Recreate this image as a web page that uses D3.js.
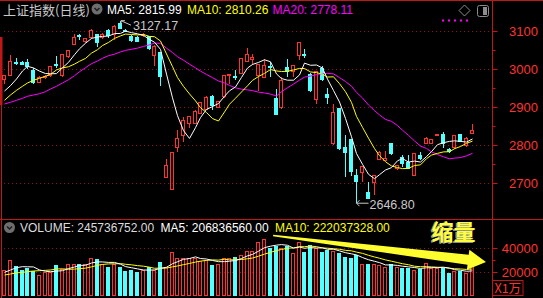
<!DOCTYPE html>
<meta charset="utf-8">
<style>
body { margin: 0; background: #000; }
svg { display: block; }
text { font-family: "Liberation Sans", Arial, sans-serif; }
.cjk { font-family: "Noto Sans CJK SC", sans-serif; }
</style>
<body>
<script src="https://d3js.org/d3.v7.min.js"></script>
<script>

// daily candles (index points)
var open = [2970.3, 2982.4, 3019.2, 3019.2, 3017.6, 2997.4, 2963.2, 2975.5, 2980.8, 3013.2,
  2982.4, 3031.6, 3063.2, 3089.5, 3070.3, 3080.8, 3091.3, 3080.8, 3103.4, 3089.5,
  3121.1, 3103.4, 3087.6, 3084.2, 3086.1, 3086.1, 3033.4, 3043.9, 2713.9, 2681.6,
  2791.3, 2824.5, 2856.1, 2856.1, 2882.4, 2892.9, 2928.2, 2898.2, 2926.3, 2980.8,
  2980.8, 2986.8, 3019.2, 3024.5, 2980.8, 2977.1, 3008.7, 2924.5, 2896.6, 3005.3,
  2991.3, 3033.4, 3040.3, 2987.6, 2917.6, 3001.8, 2935.0, 2801.8, 2896.6, 2794.7,
  2815.8, 2721.1, 2725.5, 2675.5, 2699.2, 2760.5, 2758.7, 2804.5, 2736.0, 2768.4,
  2755.3, 2719.7, 2773.7, 2803.4, 2803.4, 2824.5, 2828.2, 2789.5, 2791.3, 2828.2,
  2796.6, 2829.7];
var high = [2984.2, 3036.8, 3029.7, 3020.5, 3026.3, 3002.6, 2980.8, 2984.0, 3008.0, 3034.2,
  3040.3, 3051.0, 3092.9, 3092.9, 3082.0, 3104.0, 3092.0, 3094.0, 3104.0, 3115.0,
  3127.17, 3105.0, 3089.0, 3086.0, 3095.0, 3088.0, 3062.0, 3045.0, 2763.2, 2782.4,
  2838.7, 2873.7, 2877.0, 2891.0, 2914.0, 2928.0, 2931.6, 2917.0, 2985.0, 2987.0,
  2998.2, 3029.0, 3054.5, 3040.3, 3013.0, 3026.3, 3019.2, 2947.4, 2978.9, 3026.3,
  3011.0, 3071.0, 3052.6, 2989.0, 2996.0, 3008.7, 2950.8, 2907.1, 2898.0, 2826.3,
  2817.0, 2736.0, 2746.0, 2701.8, 2722.0, 2783.0, 2783.4, 2805.3, 2748.0, 2773.7,
  2773.7, 2779.0, 2780.8, 2820.0, 2817.0, 2829.0, 2833.4, 2792.9, 2827.0, 2829.0,
  2820.0, 2854.5];
var low = [2959.7, 2982.4, 3010.5, 3009.5, 3000.0, 2961.3, 2962.0, 2974.0, 2980.0, 3001.8,
  2978.9, 3030.0, 3063.2, 3076.3, 3069.0, 3080.0, 3057.9, 3080.0, 3080.8, 3076.3,
  3104.0, 3097.0, 3072.0, 3070.0, 3085.0, 3051.0, 3007.1, 2956.1, 2713.0, 2681.0,
  2780.8, 2808.7, 2843.9, 2855.0, 2881.0, 2892.0, 2892.9, 2897.0, 2925.0, 2959.7,
  2971.8, 2986.0, 3019.0, 3010.5, 2942.1, 2977.0, 2978.9, 2878.0, 2896.0, 2978.9,
  2978.9, 3022.9, 3029.7, 2938.7, 2907.1, 2969.0, 2907.1, 2801.0, 2786.1, 2715.8,
  2717.6, 2646.80, 2703.4, 2657.0, 2668.4, 2760.0, 2758.0, 2775.0, 2735.0, 2742.9,
  2736.0, 2719.0, 2759.7, 2803.0, 2803.0, 2824.0, 2792.9, 2778.9, 2790.0, 2808.0,
  2796.0, 2829.0];
var close = [2984.2, 3021.1, 3013.9, 3010.5, 3005.3, 2963.2, 2978.9, 2982.4, 3007.1, 3007.9,
  3039.5, 3050.0, 3084.2, 3084.2, 3080.8, 3103.4, 3068.4, 3092.9, 3087.6, 3113.9,
  3105.3, 3098.2, 3073.7, 3071.8, 3092.9, 3052.6, 3061.3, 2978.9, 2747.4, 2780.8,
  2817.6, 2865.0, 2875.5, 2889.5, 2912.4, 2926.3, 2901.8, 2915.8, 2984.2, 2986.0,
  2975.5, 3028.2, 3038.7, 3031.6, 3012.4, 3010.5, 3001.8, 2878.9, 2970.3, 2991.3,
  3010.5, 3070.3, 3035.0, 2942.1, 2994.7, 2970.3, 2924.5, 2886.1, 2789.5, 2778.9,
  2729.7, 2703.4, 2744.7, 2657.9, 2721.1, 2782.4, 2765.0, 2776.3, 2747.4, 2750.0,
  2736.8, 2778.2, 2763.2, 2819.2, 2815.8, 2828.2, 2803.4, 2780.8, 2826.3, 2808.7,
  2819.2, 2838.7];

var ma5 = [2942.1, 2956.1, 2973.7, 2994.7, 3007.0, 3002.8, 2994.4, 2988.1, 2987.4, 2987.9,
  3003.2, 3017.4, 3037.7, 3053.2, 3067.7, 3080.5, 3084.2, 3085.9, 3086.6, 3093.2,
  3093.6, 3099.6, 3095.7, 3092.6, 3088.4, 3077.8, 3070.5, 3051.5, 2986.6, 2924.2,
  2877.2, 2837.9, 2817.3, 2845.7, 2872.0, 2893.7, 2901.1, 2909.2, 2928.1, 2942.8,
  2952.7, 2977.9, 3002.5, 3012.0, 3017.3, 3024.3, 3019.0, 2987.0, 2974.8, 2970.6,
  2970.6, 2984.3, 3015.5, 3009.8, 3010.5, 3002.5, 2973.3, 2943.5, 2913.0, 2869.9,
  2821.7, 2777.5, 2749.2, 2722.9, 2711.4, 2721.9, 2734.2, 2740.5, 2758.4, 2764.2,
  2755.1, 2757.7, 2755.1, 2769.5, 2782.6, 2800.9, 2806.0, 2809.5, 2810.9, 2809.5,
  2807.7, 2815.99];
var ma10 = [2917.6, 2931.6, 2943.9, 2954.5, 2963.2, 2970.3, 2975.5, 2980.8, 2986.0, 2997.5,
  3003.0, 3005.9, 3012.9, 3020.3, 3027.8, 3041.8, 3050.8, 3061.8, 3069.9, 3080.5,
  3087.1, 3091.9, 3090.8, 3089.6, 3090.8, 3085.7, 3085.0, 3073.6, 3039.6, 3006.3,
  2977.5, 2954.2, 2934.4, 2916.2, 2898.1, 2885.5, 2869.5, 2863.2, 2886.9, 2907.4,
  2923.2, 2939.5, 2955.8, 2970.1, 2980.1, 2988.5, 2998.5, 2994.8, 2993.4, 2993.9,
  2997.4, 3001.6, 3001.3, 2992.3, 2990.5, 2986.5, 2978.8, 2979.5, 2961.4, 2940.2,
  2912.1, 2875.4, 2846.4, 2818.0, 2790.6, 2771.8, 2755.9, 2744.9, 2740.7, 2737.8,
  2738.5, 2746.0, 2747.8, 2764.0, 2773.4, 2778.0, 2781.9, 2782.3, 2790.2, 2796.1,
  2804.3, 2810.26];
var ma20 = [2907.9, 2912.4, 2917.6, 2922.9, 2928.2, 2931.6, 2935.0, 2940.3, 2947.4, 2954.5,
  2963.2, 2971.8, 2982.4, 2992.9, 3003.4, 3013.9, 3021.1, 3028.2, 3035.0, 3039.0,
  3045.0, 3048.9, 3051.9, 3054.9, 3059.3, 3063.8, 3067.9, 3067.7, 3054.7, 3043.4,
  3032.3, 3023.0, 3012.6, 3002.9, 2994.5, 2985.6, 2977.3, 2968.4, 2963.2, 2956.9,
  2950.4, 2946.9, 2945.1, 2943.1, 2939.1, 2937.0, 2934.0, 2929.0, 2940.1, 2950.7,
  2960.3, 2970.6, 2978.6, 2981.2, 2985.3, 2987.5, 2988.6, 2987.1, 2977.4, 2967.1,
  2954.8, 2938.5, 2923.8, 2905.1, 2890.6, 2879.2, 2867.3, 2862.2, 2851.1, 2839.0,
  2825.3, 2810.7, 2797.1, 2791.0, 2782.0, 2774.9, 2768.9, 2763.6, 2765.4, 2766.9,
  2771.4, 2778.11];

// volume in units of 10,000 (x1万)
var volume = [21417, 29750, 25028, 21417, 22806, 20861, 17250, 19472, 19472, 25583,
  22250, 26139, 26139, 26139, 26139, 31694, 30583, 26139, 24194, 26139,
  24194, 20583, 21417, 19472, 21417, 23639, 21417, 27806, 24194, 36139,
  31694, 31694, 31139, 31139, 29194, 29750, 25583, 26139, 31139, 31139,
  32528, 33917, 37250, 37250, 44472, 47250, 40028, 41667, 39500, 41667,
  35306, 44472, 36694, 42250, 40028, 36139, 38083, 37250, 35306, 32528,
  31139, 33917, 26139, 26139, 26139, 25583, 24194, 26139, 24194, 22806,
  22806, 21417, 22250, 26900, 23500, 23000, 23000, 18639, 20400, 21000,
  18800, 24573.68];
var volMa5 = [19500, 21417, 23333, 24194, 24084, 23972, 21472, 20361, 19972, 20528,
  20805, 22583, 23917, 25250, 25361, 27250, 28139, 28139, 27750, 27750,
  26250, 24250, 23305, 22361, 21417, 21306, 21472, 22750, 23695, 26639,
  28250, 30305, 30972, 32361, 30972, 30583, 29361, 28361, 28361, 28750,
  29306, 30972, 33195, 34417, 37083, 40028, 41250, 42133, 42583, 42022,
  39634, 40522, 39528, 40078, 39750, 39917, 38639, 38750, 37361, 35861,
  34861, 34028, 31806, 29972, 28695, 27583, 25639, 25639, 25250, 24583,
  24028, 23472, 22695, 23236, 23375, 23413, 23730, 23008, 21708, 21208,
  20368, 20683.66];
var volMa10 = [17250, 18083, 19000, 19472, 20028, 20583, 20861, 21139, 21417, 22306,
  22389, 22028, 22139, 22611, 22944, 24028, 25361, 26028, 26500, 26556,
  26750, 26194, 25722, 25055, 24583, 23778, 22861, 23028, 23028, 24028,
  24778, 25889, 26861, 28028, 28806, 29417, 29833, 29667, 30361, 29861,
  29944, 30167, 30778, 31389, 32917, 34667, 36111, 37664, 38500, 39553,
  39831, 40886, 40831, 41331, 40886, 39775, 39581, 39139, 38720, 37806,
  37389, 36333, 35278, 33667, 32278, 31222, 29833, 28722, 27611, 26639,
  25806, 24556, 24167, 24243, 23979, 23721, 23601, 22851, 22472, 22291,
  21891, 22203.73];

var priceTicks = [3100, 3000, 2900, 2800, 2700];
var priceMinor = [3050, 2950, 2850, 2750];
var volTicks = [40000, 20000];
var volMinor = [30000];

var RED = "#ff3232", CYAN = "#54ffff", AXIS = "#c01818", GRID = "#8c1414";
var W = 543, H = 298, axisX = 492.5;

var svg = d3.select("body").append("svg")
    .attr("width", W).attr("height", H)
    .style("background", "#000");

var n = close.length;
var x = d3.scaleBand().domain(d3.range(85)).range([1.4, 491.9]);
function cx(i) { return Math.round(x(i) + x.bandwidth() / 2); }

var y = d3.scaleLinear().domain([2700, 3100]).range([183, 31]);
var yv = d3.scaleLinear().domain([0, 40000]).range([295.7, 247.7]);

// frame
svg.append("line").attr("x1", 0).attr("x2", W).attr("y1", 0.5).attr("y2", 0.5).attr("stroke", AXIS);
svg.append("line").attr("x1", 0).attr("x2", W).attr("y1", 219.5).attr("y2", 219.5).attr("stroke", AXIS);
svg.append("line").attr("x1", axisX).attr("x2", axisX).attr("y1", 0).attr("y2", H).attr("stroke", AXIS);
svg.append("line").attr("x1", 1.5).attr("x2", 1.5).attr("y1", 37).attr("y2", H).attr("stroke", AXIS);
svg.append("rect").attr("x", 0).attr("y", 37).attr("width", 2.5).attr("height", 68).attr("fill", AXIS);

// dotted grid
svg.selectAll(".pgrid").data(priceTicks).join("line")
    .attr("x1", 4).attr("x2", axisX - 1)
    .attr("y1", d => Math.round(y(d)) + 0.5).attr("y2", d => Math.round(y(d)) + 0.5)
    .attr("stroke", GRID).attr("stroke-dasharray", "1,3");
svg.selectAll(".vgrid").data(volTicks).join("line")
    .attr("x1", 4).attr("x2", axisX - 1)
    .attr("y1", d => Math.round(yv(d)) + 0.5).attr("y2", d => Math.round(yv(d)) + 0.5)
    .attr("stroke", GRID).attr("stroke-dasharray", "1,3");

// right axes
function ticks(sc, major, minor) {
  svg.append("g").selectAll("line").data(major).join("line")
      .attr("x1", axisX).attr("x2", axisX + 5)
      .attr("y1", d => Math.round(sc(d)) + 0.5).attr("y2", d => Math.round(sc(d)) + 0.5)
      .attr("stroke", AXIS);
  svg.append("g").selectAll("line").data(minor).join("line")
      .attr("x1", axisX).attr("x2", axisX + 3)
      .attr("y1", d => Math.round(sc(d)) + 0.5).attr("y2", d => Math.round(sc(d)) + 0.5)
      .attr("stroke", AXIS);
  svg.append("g").selectAll("text").data(major).join("text")
      .attr("x", 538).attr("y", d => sc(d) + 4.8)
      .attr("text-anchor", "end").attr("fill", RED).attr("font-size", "13px")
      .text(d => d);
}
ticks(y, priceTicks, priceMinor);
ticks(yv, volTicks, volMinor);

// candles: red hollow = up, cyan filled = down
var candles = svg.append("g");
d3.range(n).forEach(function(i) {
  var c = cx(i), up = close[i] >= open[i];
  var top = Math.round(y(Math.max(open[i], close[i])));
  var bot = Math.round(y(Math.min(open[i], close[i])));
  var hy = Math.round(y(high[i])), ly = Math.round(y(low[i]));
  if (bot - top < 1) bot = top + 1;
  if (up) {
    candles.append("line").attr("x1", c + 0.5).attr("x2", c + 0.5)
        .attr("y1", hy).attr("y2", top).attr("stroke", RED);
    candles.append("line").attr("x1", c + 0.5).attr("x2", c + 0.5)
        .attr("y1", bot).attr("y2", ly).attr("stroke", RED);
    candles.append("rect").attr("x", c - 1.5).attr("y", top + 0.5)
        .attr("width", 3).attr("height", Math.max(1, bot - top - 1))
        .attr("fill", "none").attr("stroke", RED);
  } else {
    candles.append("line").attr("x1", c + 0.5).attr("x2", c + 0.5)
        .attr("y1", hy).attr("y2", ly).attr("stroke", CYAN);
    candles.append("rect").attr("x", c - 2).attr("y", top)
        .attr("width", 4).attr("height", bot - top).attr("fill", CYAN);
  }
});

// moving averages
function maLine(vals, sc, color) {
  svg.append("path").datum(vals)
      .attr("fill", "none").attr("stroke", color).attr("stroke-width", 1)
      .attr("d", d3.line().x((d, i) => cx(i) + 0.5).y(d => sc(d)));
}
maLine(ma20, y, "#ff00ff");
maLine(ma10, y, "#ffff00");
maLine(ma5, y, "#ffffff");

// volume bars
var vbars = svg.append("g");
d3.range(n).forEach(function(i) {
  var c = cx(i), up = close[i] >= open[i];
  var top = Math.round(yv(volume[i])), base = 296;
  if (up) {
    vbars.append("rect").attr("x", c - 1.5).attr("y", top + 0.5)
        .attr("width", 3).attr("height", base - top - 1)
        .attr("fill", "none").attr("stroke", RED);
  } else {
    vbars.append("rect").attr("x", c - 2).attr("y", top)
        .attr("width", 4).attr("height", base - top).attr("fill", CYAN);
  }
});
maLine(volMa10, yv, "#ffff00");
maLine(volMa5, yv, "#ffffff");

// high / low markers
var hi = d3.maxIndex(high), lo = d3.minIndex(low);
var hx = cx(hi) + 1, hyy = y(high[hi]);
svg.append("path")
    .attr("d", "M" + (hx + 10) + "," + (hyy + 4.5) + "L" + hx + "," + hyy +
               "M" + hx + "," + (hyy + 4) + "L" + hx + "," + hyy + "L" + (hx + 4) + "," + hyy)
    .attr("fill", "none").attr("stroke", "#c8c8c8");
svg.append("text").attr("x", hx + 12).attr("y", hyy + 9.3)
    .attr("fill", "#c8c8c8").attr("font-size", "12.5px").text(high[hi].toFixed(2));
var lx = cx(lo) + 0.5, lyy = y(low[lo]);
svg.append("path")
    .attr("d", "M" + (lx + 12) + "," + lyy + "L" + lx + "," + lyy +
               "M" + (lx + 3) + "," + (lyy - 3) + "L" + lx + "," + lyy + "L" + (lx + 3) + "," + (lyy + 3))
    .attr("fill", "none").attr("stroke", "#c8c8c8");
svg.append("text").attr("x", lx + 13).attr("y", lyy + 6)
    .attr("fill", "#c8c8c8").attr("font-size", "12.5px").text(low[lo].toFixed(2));

// legends
function icon(cxp, cyp) {
  svg.append("circle").attr("cx", cxp).attr("cy", cyp).attr("r", 5.5).attr("fill", "#6e6e6e");
  svg.append("path").attr("d", "M" + (cxp - 2.5) + "," + (cyp - 1) + "L" + cxp + "," + (cyp + 1.5) + "L" + (cxp + 2.5) + "," + (cyp - 1))
      .attr("fill", "none").attr("stroke", "#1e1e1e").attr("stroke-width", 1.5);
}
svg.append("text").attr("class", "cjk").attr("x", 3).attr("y", 15)
    .attr("fill", "#c8c8c8").attr("font-size", "13px").text("上证指数(日线)");
icon(97, 9);
var legend = [
  {x: 107, t: "MA5: " + ma5[n - 1].toFixed(2), c: "#ffffff"},
  {x: 187, t: "MA10: " + ma10[n - 1].toFixed(2), c: "#ffff00"},
  {x: 272.5, t: "MA20: " + ma20[n - 1].toFixed(2), c: "#ff00ff"}
];
svg.selectAll(".lg").data(legend).join("text")
    .attr("x", d => d.x).attr("y", 13.5).attr("fill", d => d.c)
    .attr("font-size", "12px").text(d => d.t);

// top-right tool icons
svg.append("path").attr("d", "M464.5,5 L470,10.5 L464.5,16 L459,10.5 Z")
    .attr("fill", "none").attr("stroke", "#8c8c8c");
svg.append("rect").attr("x", 477.5).attr("y", 5.5).attr("width", 11).attr("height", 11).attr("rx", 2)
    .attr("fill", "none").attr("stroke", "#8c8c8c");
svg.append("rect").attr("x", 483).attr("y", 7).attr("width", 4).attr("height", 8).attr("fill", "#8c8c8c");
svg.selectAll(".dots").data(d3.range(5)).join("rect")
    .attr("x", d => 442 + d * 6).attr("y", 19.5).attr("width", 2).attr("height", 2).attr("fill", "#ff00ff");

icon(9.5, 227.5);
var vlegend = [
  {x: 20, t: "VOLUME: 245736752.00", c: "#dcdcdc"},
  {x: 160.5, t: "MA5: 206836560.00", c: "#ffffff"},
  {x: 275, t: "MA10: 222037328.00", c: "#ffff00"}
];
svg.selectAll(".vlg").data(vlegend).join("text")
    .attr("x", d => d.x).attr("y", 231.5).attr("fill", d => d.c)
    .attr("font-size", "12px").text(d => d.t);

// unit box
svg.append("rect").attr("x", 492.5).attr("y", 280.5).attr("width", 30.5).attr("height", 15)
    .attr("fill", "none").attr("stroke", AXIS);
svg.append("text").attr("class", "cjk").attr("x", 494.5).attr("y", 293)
    .attr("fill", RED).attr("font-size", "12.5px").text("X1万");

// annotation: shrinking volume arrow
var aStart = [x(47) + 0.5, yv(50100)], aTip = [486, yv(28100)];
var dx = aTip[0] - aStart[0], dy = aTip[1] - aStart[1], len = Math.hypot(dx, dy);
var ux = dx / len, uy = dy / len, nx = -uy, ny = ux;
var bx = aTip[0] - 18 * ux, by = aTip[1] - 18 * uy;
var pts = [
  [aStart[0] - 0.8 * nx, aStart[1] - 0.8 * ny],
  [bx - 5 * nx, by - 5 * ny],
  [bx - 10 * nx, by - 10 * ny],
  aTip,
  [bx + 10 * nx, by + 10 * ny],
  [bx + 5 * nx, by + 5 * ny],
  [aStart[0] + 0.8 * nx, aStart[1] + 0.8 * ny]
];
svg.append("path").attr("d", d3.line()(pts) + "Z").attr("fill", "#ffff30");

svg.append("text").attr("class", "cjk").attr("x", 430).attr("y", 240.5)
    .attr("fill", "#909090").attr("font-size", "22px").attr("font-weight", "bold").text("缩量");
svg.append("text").attr("class", "cjk").attr("x", 431.5).attr("y", 240)
    .attr("fill", "#ffff3c").attr("font-size", "22px").attr("font-weight", "bold").text("缩量");

</script>
